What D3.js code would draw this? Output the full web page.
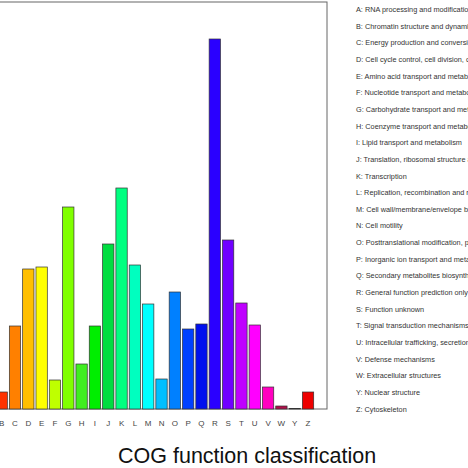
<!DOCTYPE html>
<html><head><meta charset="utf-8">
<script src="https://cdn.jsdelivr.net/npm/d3@7"></script>
<style>body{margin:0;background:#fff}svg{display:block}</style>
</head><body>
<script>
const categories = ["A","B","C","D","E","F","G","H","I","J","K","L","M","N","O","P","Q","R","S","T","U","V","W","Y","Z"];
const counts = [20,17,83,140,142,29,202,45,83,165,221,144,105,30,117,80,85,370,169,106,84,22,3,0.5,17];
const colors = ["#ff0000","#ff3300","#ff8000","#ffbf00","#ffff00","#bfff00","#80ff00","#40ee20","#00ee00","#00dd40","#00ff80","#00ffbf","#00ffff","#00bfff","#0080ff","#0040ff","#0010ee","#2a00ff","#7000ff","#bf00ff","#ff00ff","#ff00bf","#b0104a","#800030","#ee0000"];
const descriptions = ["RNA processing and modification","Chromatin structure and dynamics","Energy production and conversion","Cell cycle control, cell division, chromosome partitioning","Amino acid transport and metabolism","Nucleotide transport and metabolism","Carbohydrate transport and metabolism","Coenzyme transport and metabolism","Lipid transport and metabolism","Translation, ribosomal structure and biogenesis","Transcription","Replication, recombination and repair","Cell wall/membrane/envelope biogenesis","Cell motility","Posttranslational modification, protein turnover, chaperones","Inorganic ion transport and metabolism","Secondary metabolites biosynthesis, transport and catabolism","General function prediction only","Function unknown","Signal transduction mechanisms","Intracellular trafficking, secretion, and vesicular transport","Defense mechanisms","Extracellular structures","Nuclear structure","Cytoskeleton"];

const svg = d3.select("body").append("svg").attr("width",468).attr("height",468)
  .style("font-family","'Liberation Sans', Arial, sans-serif");
const x = d3.scaleBand().domain(categories).range([-18.3, 314.7]).paddingInner(0.15).paddingOuter(0.075);
const y = d3.scaleLinear().domain([0, 407]).range([409, 2]);

svg.append("rect").attr("x",-30).attr("y",2).attr("width",357).attr("height",407)
  .attr("fill","none").attr("stroke","#666").attr("stroke-width",1);

svg.selectAll("rect.bar").data(categories).join("rect").attr("class","bar")
  .attr("x",d=>x(d)).attr("width",x.bandwidth())
  .attr("y",(d,i)=>y(counts[i])).attr("height",(d,i)=>y(0)-y(counts[i]))
  .attr("fill",(d,i)=>colors[i]).attr("stroke","#333").attr("stroke-width",0.7);

const ax = svg.append("g").attr("transform","translate(0,409)")
  .call(d3.axisBottom(x).tickSize(0).tickPadding(11));
ax.select(".domain").remove();
ax.selectAll("text").attr("font-size",8).attr("fill","#444")
  .style("font-family","'Liberation Sans', Arial, sans-serif");

svg.append("text").attr("x",118).attr("y",463).attr("font-size",21.5).attr("fill","#111")
  .text("COG function classification");

svg.append("g").selectAll("text").data(categories).join("text")
  .attr("x",356).attr("y",(d,i)=>12+i*16.65).attr("font-size",7.3).attr("fill","#333")
  .text((d,i)=>d+": "+descriptions[i]);
</script>
</body></html>
